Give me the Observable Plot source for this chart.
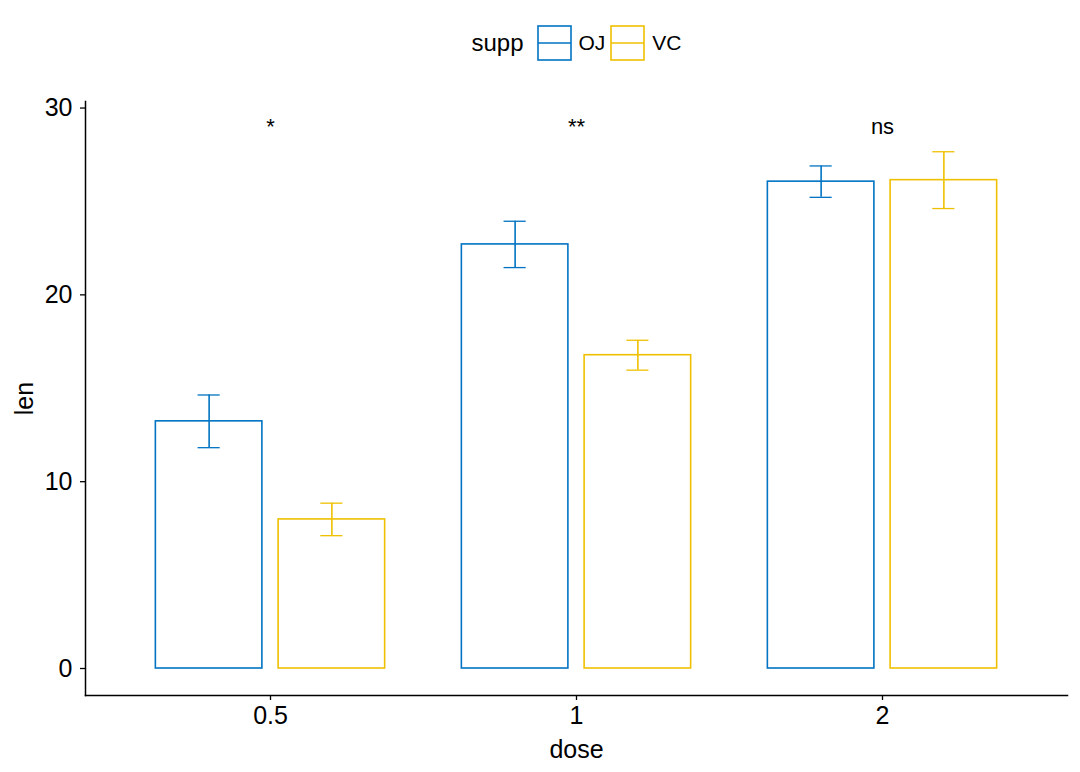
<!DOCTYPE html>
<html><head><meta charset="utf-8">
<script src="https://cdn.jsdelivr.net/npm/d3@7"></script>
<script src="https://cdn.jsdelivr.net/npm/@observablehq/plot@0.6"></script>
<style>
body{margin:0;background:#fff;font-family:"Liberation Sans",Arial,sans-serif;color:#000;}
#legend{height:75px;padding-top:5px;padding-left:91px;padding-right:13px;display:flex;align-items:center;justify-content:center;}
#legend .title{font-size:24px;margin-right:13px;}
#legend .lab{font-size:21px;margin-left:7px;margin-right:5px;}
#legend svg{display:block;}
#chart svg [aria-label="frame"]{stroke-width:1.5;}
#chart svg [aria-label$="tick"]{stroke-width:1.3;}
</style></head><body>
<div id="legend"></div>
<div id="chart"></div>
<script>
// ---- data ----
const doses = ["0.5", "1", "2"];
const supps = ["OJ", "VC"];
const ojMean = [13.23, 22.70, 26.06];
const ojSE = [1.41, 1.24, 0.84];
const vcMean = [7.98, 16.77, 26.14];
const vcSE = [0.87, 0.80, 1.52];
const pLabels = ["*", "**", "ns"];
const pLabelY = 29.0;
const yTicks = [0, 10, 20, 30];
const colors = ["#0073C2", "#EFC000"];

const means = {OJ: ojMean, VC: vcMean};
const ses = {OJ: ojSE, VC: vcSE};
const rows = supps.flatMap(s => doses.map((d, i) => ({
  dose: d, supp: s, mean: means[s][i], lo: means[s][i] - ses[s][i], hi: means[s][i] + ses[s][i]
})));
const annots = doses.map((d, i) => ({dose: d, label: pLabels[i], y: pLabelY}));

// legend
const leg = document.getElementById("legend");
let html = `<span class="title">supp</span>`;
supps.forEach((s, i) => {
  html += `<svg width="35" height="36"><rect x="1" y="1" width="33" height="34" fill="none" stroke="${colors[i]}" stroke-width="1.6"/><line x1="1" x2="34" y1="18" y2="18" stroke="${colors[i]}" stroke-width="1.6"/></svg><span class="lab">${s}</span>`;
});
leg.innerHTML = html;

// layout constants (pixel styling)
const W = 1080, ML = 85, MR = 13;
const step = (W - ML - MR) / 3.2;       // band step (paddingOuter 0.1, paddingInner 0)
const dodge = step * 0.2;               // dodge offset
const barInset = (step - step * 0.35) / 2;
const capInset = (step - 23) / 2;

const marks = [];
supps.forEach((s, i) => {
  const data = rows.filter(r => r.supp === s);
  const dx = (i === 0 ? -1 : 1) * dodge;
  marks.push(Plot.barY(data, {x: "dose", y1: 0, y2: "mean", fill: "none", stroke: colors[i], strokeWidth: 1.6, insetLeft: barInset, insetRight: barInset, dx}));
  marks.push(Plot.ruleX(data, {x: "dose", y1: "lo", y2: "hi", stroke: colors[i], strokeWidth: 1.6, dx}));
  marks.push(Plot.tickY(data, {x: "dose", y: "lo", stroke: colors[i], strokeWidth: 1.6, insetLeft: capInset, insetRight: capInset, dx}));
  marks.push(Plot.tickY(data, {x: "dose", y: "hi", stroke: colors[i], strokeWidth: 1.6, insetLeft: capInset, insetRight: capInset, dx}));
});
marks.push(Plot.text(annots, {x: "dose", y: "y", text: "label", fontSize: 22, fill: "#000"}));

const chart = Plot.plot({
  width: W,
  height: 692,
  marginLeft: ML,
  marginRight: MR,
  marginTop: 21,
  marginBottom: 77,
  style: {fontFamily: "'Liberation Sans', Arial, sans-serif", fontSize: "25px", color: "#000", background: "#fff"},
  x: {type: "band", domain: doses, paddingInner: 0, paddingOuter: 0.1, line: true,
      tickSize: 5, tickPadding: 6, label: "dose", labelAnchor: "center", labelArrow: "none", labelOffset: 62},
  y: {domain: [-1.445, 30.35], line: true, ticks: yTicks, tickSize: 5, tickPadding: 8,
      label: "len", labelAnchor: "center", labelArrow: "none", labelOffset: 70},
  marks
});
document.getElementById("chart").appendChild(chart);
</script>
</body></html>
